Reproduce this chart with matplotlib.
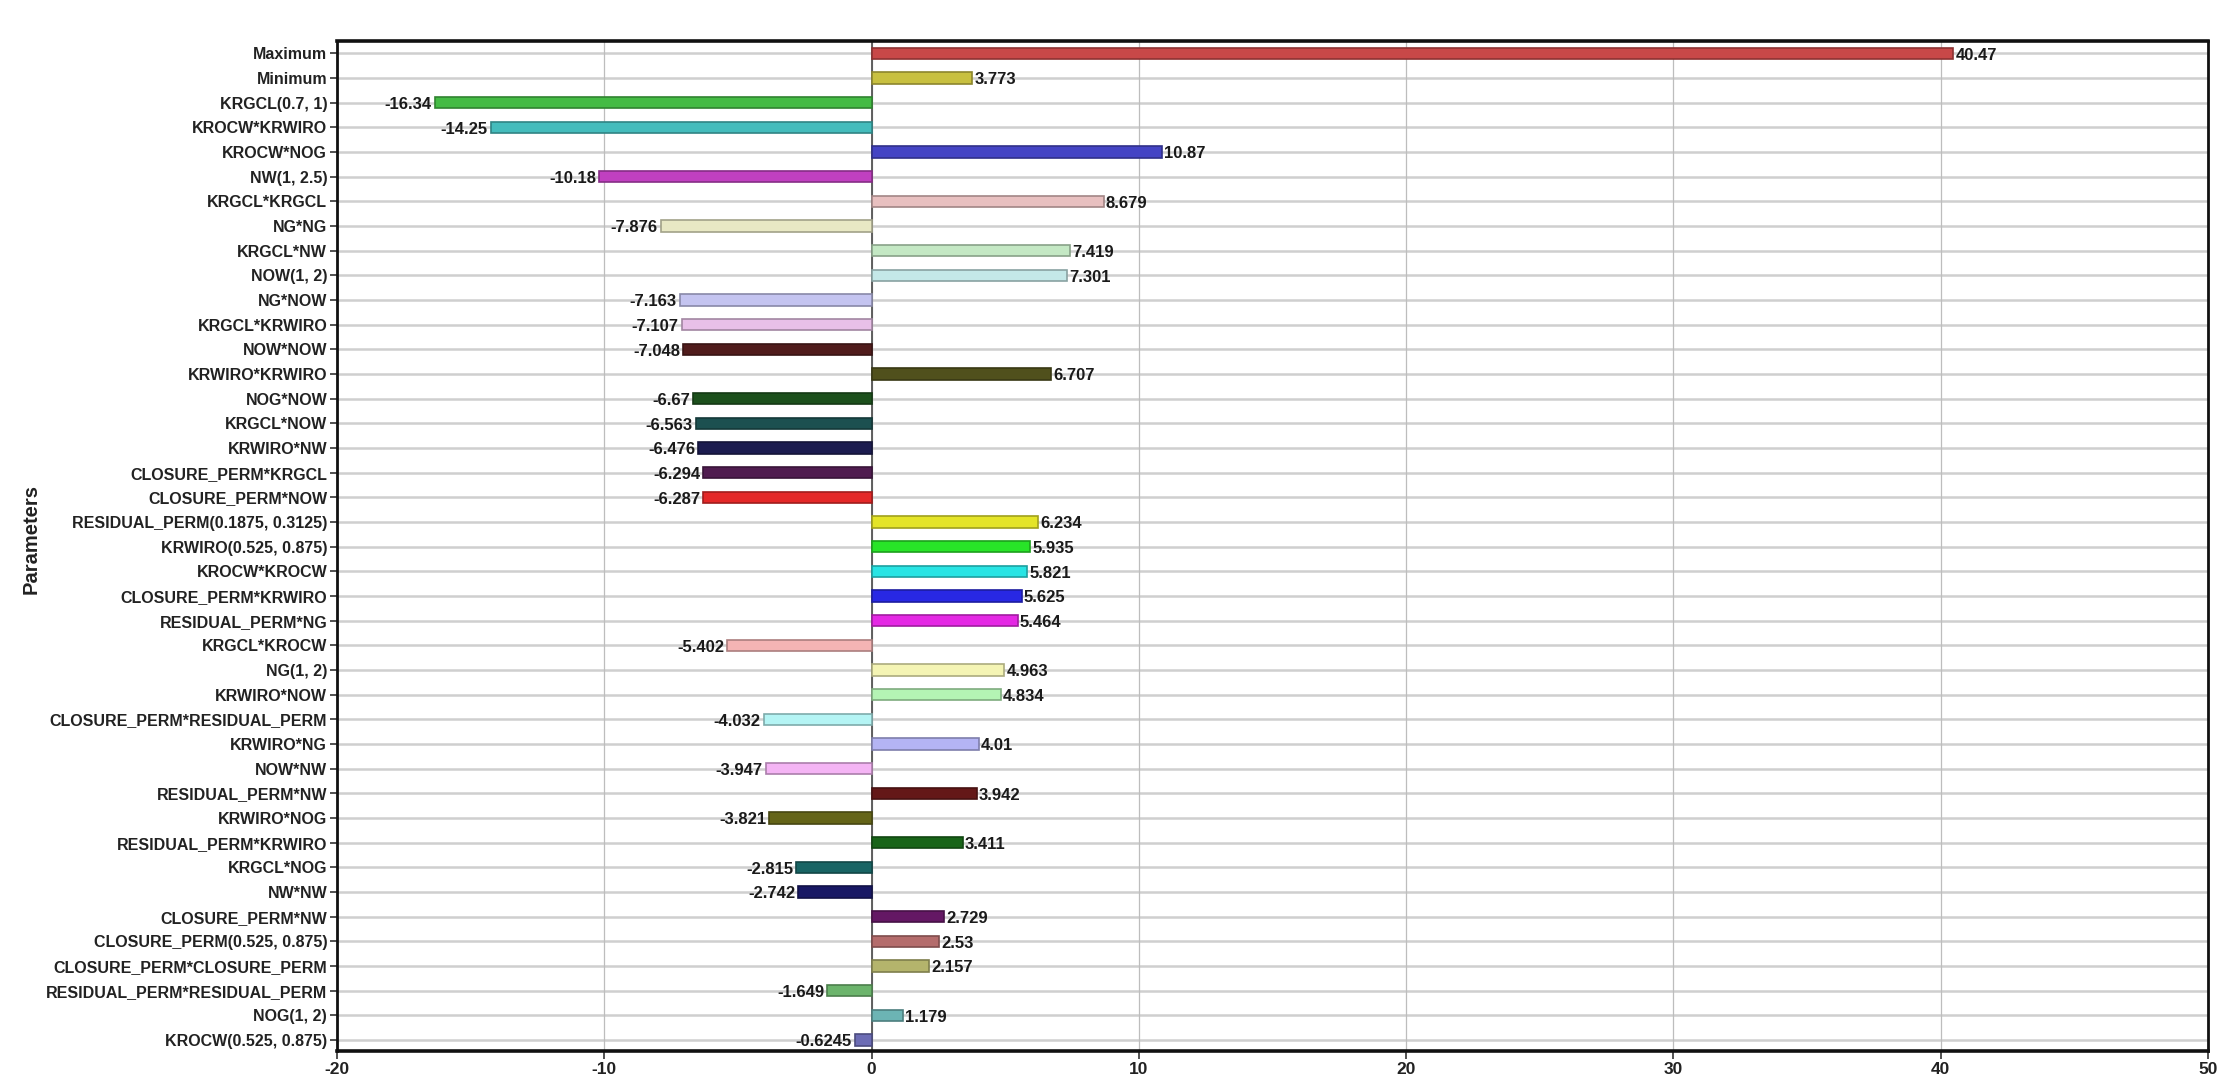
import matplotlib
matplotlib.use('Agg')
import matplotlib.pyplot as plt
import matplotlib.colors as mcolors
import numpy as np

plt.rcParams['font.family'] = ['Liberation Sans', 'DejaVu Sans']
plt.rcParams['font.weight'] = 'bold'

# parameters, top to bottom
params = [
    'Maximum', 'Minimum', 'KRGCL(0.7, 1)', 'KROCW*KRWIRO', 'KROCW*NOG',
    'NW(1, 2.5)', 'KRGCL*KRGCL', 'NG*NG', 'KRGCL*NW', 'NOW(1, 2)',
    'NG*NOW', 'KRGCL*KRWIRO', 'NOW*NOW', 'KRWIRO*KRWIRO', 'NOG*NOW',
    'KRGCL*NOW', 'KRWIRO*NW', 'CLOSURE_PERM*KRGCL', 'CLOSURE_PERM*NOW',
    'RESIDUAL_PERM(0.1875, 0.3125)', 'KRWIRO(0.525, 0.875)', 'KROCW*KROCW',
    'CLOSURE_PERM*KRWIRO', 'RESIDUAL_PERM*NG', 'KRGCL*KROCW', 'NG(1, 2)',
    'KRWIRO*NOW', 'CLOSURE_PERM*RESIDUAL_PERM', 'KRWIRO*NG', 'NOW*NW',
    'RESIDUAL_PERM*NW', 'KRWIRO*NOG', 'RESIDUAL_PERM*KRWIRO', 'KRGCL*NOG',
    'NW*NW', 'CLOSURE_PERM*NW', 'CLOSURE_PERM(0.525, 0.875)',
    'CLOSURE_PERM*CLOSURE_PERM', 'RESIDUAL_PERM*RESIDUAL_PERM', 'NOG(1, 2)',
    'KROCW(0.525, 0.875)',
]
values = [
    40.47, 3.773, -16.34, -14.25, 10.87,
    -10.18, 8.679, -7.876, 7.419, 7.301,
    -7.163, -7.107, -7.048, 6.707, -6.67,
    -6.563, -6.476, -6.294, -6.287,
    6.234, 5.935, 5.821,
    5.625, 5.464, -5.402, 4.963,
    4.834, -4.032, 4.01, -3.947,
    3.942, -3.821, 3.411, -2.815,
    -2.742, 2.729, 2.53,
    2.157, -1.649, 1.179,
    -0.6245,
]
value_labels = [
    '40.47', '3.773', '-16.34', '-14.25', '10.87',
    '-10.18', '8.679', '-7.876', '7.419', '7.301',
    '-7.163', '-7.107', '-7.048', '6.707', '-6.67',
    '-6.563', '-6.476', '-6.294', '-6.287',
    '6.234', '5.935', '5.821',
    '5.625', '5.464', '-5.402', '4.963',
    '4.834', '-4.032', '4.01', '-3.947',
    '3.942', '-3.821', '3.411', '-2.815',
    '-2.742', '2.729', '2.53',
    '2.157', '-1.649', '1.179',
    '-0.6245',
]
bar_colors = [
    '#c84848', '#c8c040', '#44bb44', '#44bcbc', '#4444c4',
    '#c040c0', '#e8c0c0', '#e8e8c4', '#c4e8c4', '#c4e8e8',
    '#c4c4f0', '#e8c0e8', '#501c1c', '#50501c', '#1c501c',
    '#1c5050', '#1c1c50', '#501c50', '#e42828',
    '#e4e428', '#28e428', '#28e4e4',
    '#2828e4', '#e428e4', '#f4b4b4', '#f4f4b4',
    '#b4f4b4', '#b4f4f4', '#b4b4f4', '#f4b4f4',
    '#641818', '#646418', '#186418', '#186464',
    '#181864', '#641864', '#b46c6c',
    '#b4b46c', '#6cb46c', '#6cb4b4',
    '#6c6cb4',
]

xticks = [-20, -10, 0, 10, 20, 30, 40, 50]

fig = plt.figure(figsize=(22.34, 10.78), dpi=100)
ax = fig.add_axes([0.1508, 0.025, 0.8376, 0.937])

y = np.arange(len(params))
edge_colors = [tuple(c * 0.7 for c in mcolors.to_rgb(col)) for col in bar_colors]
ax.barh(y, values, height=0.45, color=bar_colors, edgecolor=edge_colors,
        linewidth=1.2, zorder=3)

for yi, v, lab in zip(y, values, value_labels):
    if v >= 0:
        ax.text(v + 0.08, yi + 0.08, lab, ha='left', va='center',
                fontsize=12, fontweight='bold', color='#1a1a1a', zorder=4)
    else:
        ax.text(v - 0.12, yi + 0.08, lab, ha='right', va='center',
                fontsize=12, fontweight='bold', color='#1a1a1a', zorder=4)

ax.set_ylim(len(params) - 0.55, -0.5)
ax.set_xlim(-20, 50)
ax.set_yticks(y)
ax.set_yticklabels(params, fontsize=11.5, fontweight='bold', color='#222222')
ax.set_xticks(xticks)
ax.set_xticklabels([str(t) for t in xticks], fontsize=12.5, fontweight='bold',
                   color='#222222')

# grid
for yi in y:
    ax.axhline(yi, color='#cfcfcf', lw=1.8, zorder=1)
for t in xticks[1:-1]:
    ax.axvline(t, color='#bdbdbd', lw=0.9, zorder=1)
ax.axvline(0, color='#555555', lw=1.3, zorder=2)

ax.tick_params(axis='y', length=5, width=1.2, pad=2, color='#333333')
ax.tick_params(axis='x', length=6, width=1.2, pad=2, color='#333333')
for side in ['left', 'right']:
    ax.spines[side].set_linewidth(2)
for side in ['top', 'bottom']:
    ax.spines[side].set_linewidth(2.6)
for s in ax.spines.values():
    s.set_color('#111111')

fig.text(0.014, 0.5, 'Parameters', rotation=90, ha='center', va='center',
         fontsize=14.5, fontweight='bold', color='#222222')

fig.savefig('out.png', dpi=100)
